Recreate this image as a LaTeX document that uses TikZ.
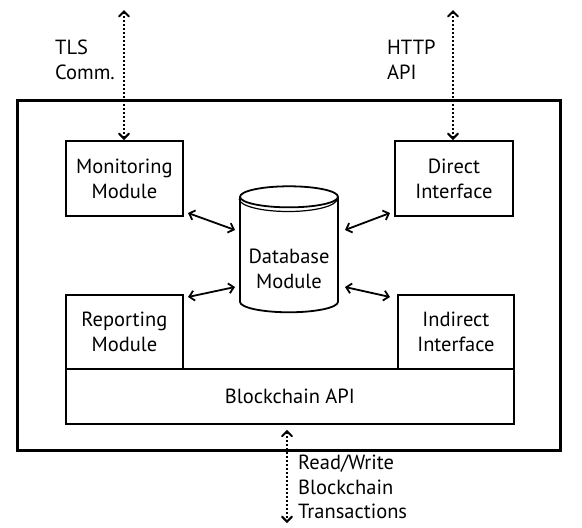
\documentclass[tikz,border=0pt]{standalone}
\usepackage{fontspec}
\setmainfont{PT Sans}
\usetikzlibrary{arrows.meta,shapes.geometric}
\begin{document}
\begin{tikzpicture}[x=1pt,y=-1pt,
  box/.style={draw,line width=1.8pt,inner sep=0pt,align=center,font=\fontsize{20.5}{25}\selectfont},
  link/.style={line width=1.8pt,{Straight Barb[length=5pt,width=10pt]}-{Straight Barb[length=5pt,width=10pt]}},
  ext/.style={line width=2pt,dotted,line cap=butt,{Straight Barb[length=5pt,width=10pt,line cap=round]}-{Straight Barb[length=5pt,width=10pt,line cap=round]}},
  lbl/.style={align=left,anchor=north west,inner sep=0pt,font=\fontsize{20.5}{24.5}\selectfont}]
\useasboundingbox (0,0) rectangle (582,528);
\fill[white] (0,0) rectangle (582,528);
% outer box
\node[draw,line width=3pt,minimum width=543pt,minimum height=350pt,anchor=north west,inner sep=0pt] (outer) at (16,99) {};
% modules
\node[box,minimum width=117pt,minimum height=75pt,anchor=north west] (mon) at (65,140) {Monitoring\\Module};
\node[box,minimum width=118pt,minimum height=75pt,anchor=north west] (dir) at (394,140) {Direct\\Interface};
\node[box,minimum width=117pt,minimum height=74pt,anchor=north west] (rep) at (65,294) {Reporting\\Module};
\node[box,minimum width=116pt,minimum height=74pt,anchor=north west] (ind) at (397,294) {Indirect\\Interface};
\node[box,minimum width=448pt,minimum height=55pt,anchor=north west] (bc) at (65,368) {Blockchain API};
% database cylinder
\node[cylinder,shape border rotate=90,draw,line width=1.8pt,minimum width=98pt,minimum height=126pt,aspect=0.26,align=center,font=\fontsize{20.5}{25}\selectfont,inner sep=0pt] (db) at (289,255) {\strut\\Database\\Module};
\draw[line width=1.2pt] ([yshift=-2pt]db.before top) arc[start angle=180,end angle=360,x radius=49pt,y radius=12.7pt];
% internal links
\coordinate (dbml) at (235,230);
\coordinate (dbmr) at (345,230);
\coordinate (dbrl) at (235,287);
\coordinate (dbrr) at (345,287);
\coordinate (monp) at (188,213);
\coordinate (dirp) at (390,213);
\coordinate (repp) at (188,297);
\coordinate (indp) at (390,297);
\draw[link] (monp) -- (dbml);
\draw[link] (dbmr) -- (dirp);
\draw[link] (repp) -- (dbrl);
\draw[link] (dbrr) -- (indp);
% external links
\coordinate (tlsend) at (124,10);
\coordinate (httpend) at (453,10);
\coordinate (bcend) at (287,523);
\draw[ext] (tlsend) -- (mon.north -| tlsend);
\draw[ext] (httpend) -- (dir.north -| httpend);
\draw[ext] (bc.south -| bcend) ++(0,5) -- (bcend);
% labels
\node[lbl] (tls) at (55,40) {TLS\\Comm.};
\node[lbl] (http) at (387,40) {HTTP\\API};
\node[lbl] (rw) at (298,455) {Read/Write\\Blockchain\\Transactions};
\end{tikzpicture}
\end{document}
